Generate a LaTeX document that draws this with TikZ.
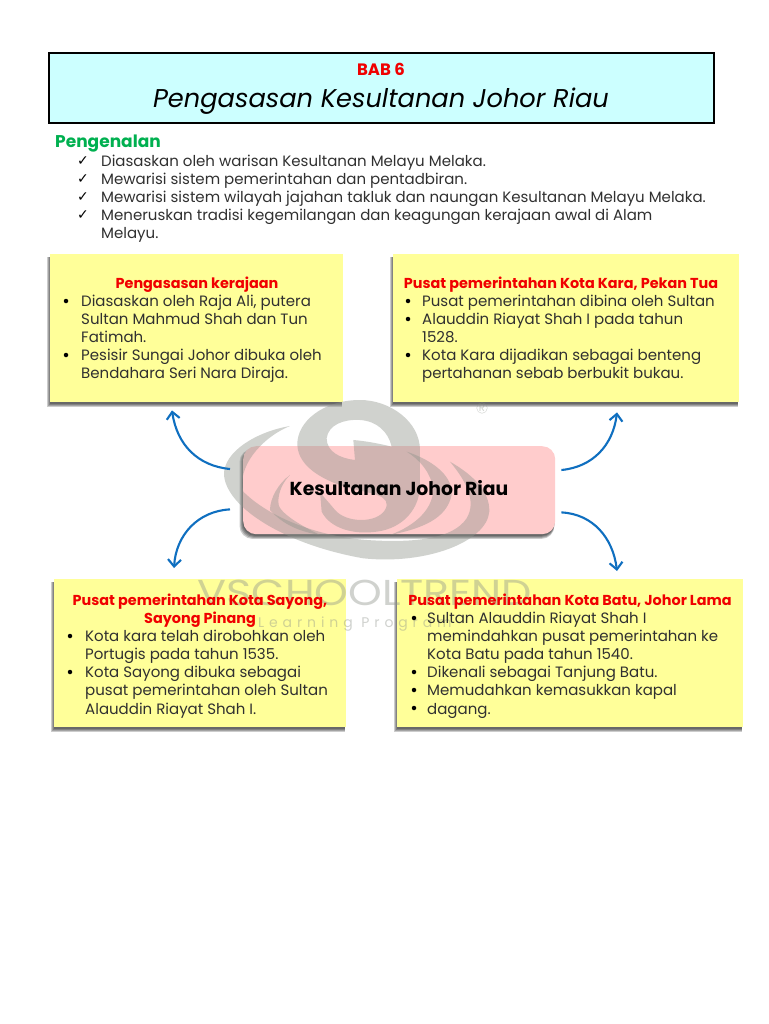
\documentclass[tikz,border=0pt]{standalone}
\usepackage{fontspec}
\setmainfont{Poppins}
\usetikzlibrary{arrows.meta,backgrounds}
\definecolor{ybox}{HTML}{FFFF99}
\definecolor{cyanbox}{HTML}{CCFFFF}
\definecolor{pinkbox}{HTML}{FFCCCC}
\definecolor{arrowblue}{HTML}{0F6FC0}
\definecolor{headred}{HTML}{F00000}
\definecolor{introgreen}{HTML}{00B050}
\definecolor{bodytext}{HTML}{303030}
\definecolor{wm}{HTML}{8F948C}
\newfontfamily\checkfont{DejaVu Sans}
\newfontfamily\wmspaced[LetterSpace=35]{Poppins}
\newcommand{\softshadow}[2]{%
  \foreach \g in {0,1,2,3}{%
    \fill[black,opacity=0.2,rounded corners=#2]
      ([shift={(-\g-0.5pt,-3pt)}]#1.north west) rectangle ([shift={(-1pt,-\g-1.5pt)}]#1.south east);}}
\tikzset{
  x=1pt,y=-1pt,
  infobox/.style={fill=ybox,draw=none,inner sep=0pt,anchor=north west},
  bodyline/.style={anchor=base west,inner sep=0pt,font=\fontsize{15}{16}\selectfont,text=bodytext},
  boxhead/.style={anchor=base,inner sep=0pt,font=\fontsize{14.4}{16}\selectfont\bfseries,text=headred},
  bullet/.style={circle,fill=black,inner sep=0pt,minimum size=4.5pt},
  flow/.style={draw=arrowblue,line width=2.1pt,-{Straight Barb[length=7pt,width=13pt,line width=2.1pt]}},
}
\begin{document}
\begin{tikzpicture}
\useasboundingbox (0,0) rectangle (768,1024);
\begin{pgfonlayer}{background}
\fill[white] (0,0) rectangle (768,1024);
\end{pgfonlayer}
% title
\node[draw=black,line width=1.6pt,fill=cyanbox,anchor=north west,minimum width=665pt,minimum height=70pt,inner sep=0pt] (title) at (48,52.5) {};
% boxes
\node[infobox,minimum width=293pt,minimum height=148pt] (ba) at (50,254) {};
\node[infobox,minimum width=346pt,minimum height=148pt] (bb) at (393,254) {};
\node[infobox,minimum width=292pt,minimum height=148pt] (bc) at (54,579) {};
\node[infobox,minimum width=346pt,minimum height=148pt] (bd) at (397,579) {};
\node[fill=pinkbox,rounded corners=13pt,anchor=north west,minimum width=312pt,minimum height=88pt,inner sep=0pt] (ctr) at (243,446) {};
\begin{pgfonlayer}{background}
\softshadow{ba}{0pt}\softshadow{bb}{0pt}\softshadow{bc}{0pt}\softshadow{bd}{0pt}\softshadow{ctr}{13pt}
\end{pgfonlayer}
% watermark
\begin{scope}[opacity=0.42]
\begin{scope}[x=0.3333pt,y=-0.3333pt,shift={(220pt,-395pt)}]
\fill[wm,even odd rule] (600,165) .. controls (600,80) and (510,15) .. (420,15) .. controls (310,15) and (230,80) .. (232,150) .. controls (235,220) and (320,260) .. (390,280) .. controls (450,295) and (520,300) .. (495,345) .. controls (470,385) and (380,385) .. (345,345) .. controls (325,320) and (305,300) .. (300,290) -- (305,350) .. controls (330,400) and (400,420) .. (470,410) .. controls (550,400) and (600,340) .. (600,270) -- cycle
 (515,155) .. controls (505,110) and (470,78) .. (420,75) .. controls (370,72) and (325,90) .. (320,130) .. controls (320,170) and (360,190) .. (405,195) -- (400,135) .. controls (435,138) and (475,145) .. (515,155) -- cycle;
\fill[wm] (210,93) .. controls (110,110) and (10,170) .. (12,240) .. controls (20,340) and (200,450) .. (430,490) .. controls (620,510) and (800,440) .. (808,350) .. controls (810,290) and (760,240) .. (690,200) .. controls (740,260) and (770,320) .. (740,370) .. controls (700,430) and (590,445) .. (440,435) .. controls (300,425) and (150,370) .. (70,290) .. controls (50,220) and (120,130) .. (210,93) -- cycle;
\fill[wm] (560,170) .. controls (650,200) and (700,250) .. (695,300) .. controls (680,370) and (610,400) .. (510,420) .. controls (590,390) and (640,340) .. (640,280) .. controls (630,230) and (600,195) .. (560,170) -- cycle;
\fill[wm] (210,240) .. controls (175,265) and (150,310) .. (150,345) .. controls (190,390) and (240,410) .. (300,420) .. controls (240,390) and (170,350) .. (175,320) .. controls (175,290) and (190,260) .. (210,240) -- cycle;
\end{scope}
\node[inner sep=0pt,anchor=base,font=\fontsize{36}{40}\selectfont,text=wm,xscale=1.19] (wm1) at (365,605) {VSCHOOLTREND};
\node[inner sep=0pt,anchor=base west,font=\wmspaced\fontsize{14}{16}\selectfont,text=wm] (wm2) at (258,627) {Learning Program};
\node[draw=wm,circle,inner sep=0.5pt,font=\fontsize{10}{10}\selectfont,text=wm] (wm3) at (482,408) {R};
\end{scope}
% title text
\node[inner sep=0pt,font=\fontsize{16.5}{18}\selectfont\bfseries,text=headred,anchor=base] (bab) at (381,76) {BAB 6};
\node[inner sep=0pt,font=\fontsize{25.7}{28}\selectfont\itshape,text=black,anchor=base] (ttl) at (381,108) {Pengasasan Kesultanan Johor Riau};
% intro
\node[inner sep=0pt,anchor=base west,font=\fontsize{17}{18}\selectfont\bfseries,text=introgreen] (pg) at (55,148) {Pengenalan};
\foreach \n/\yy/\t in {i1/167/{Diasaskan oleh warisan Kesultanan Melayu Melaka.},
  i2/185/{Mewarisi sistem pemerintahan dan pentadbiran.},
  i3/203/{Mewarisi sistem wilayah jajahan takluk dan naungan Kesultanan Melayu Melaka.},
  i4/221/{Meneruskan tradisi kegemilangan dan keagungan kerajaan awal di Alam}}{
  \node[bodyline] (\n) at (101,\yy) {\t};
  \node[inner sep=0pt,anchor=base,font=\checkfont\fontsize{14}{14}\selectfont,text=black] (c\n) at (83,\yy-1) {✓};
}
\node[bodyline] (i5) at (101,239) {Melayu.};
\node[inner sep=0pt,anchor=base,font=\fontsize{18.8}{20}\selectfont\bfseries,text=black] (ctrt) at (399,495) {Kesultanan Johor Riau};
% box A
\node[boxhead] (ha) at (197,288) {Pengasasan kerajaan};
\foreach \n/\yy/\t in {a1/306/{Diasaskan oleh Raja Ali, putera},a2/324/{Sultan Mahmud Shah dan Tun},a3/342/{Fatimah.},a4/360/{Pesisir Sungai Johor dibuka oleh},a5/378/{Bendahara Seri Nara Diraja.}}
  {\node[bodyline] (\n) at (81,\yy) {\t};}
\node[bullet] (ba1) at (66,301) {};\node[bullet] (ba2) at (66,355) {};
% box B
\node[boxhead] (hb) at (561,288) {Pusat pemerintahan Kota Kara, Pekan Tua};
\foreach \n/\yy/\t in {b1/306/{Pusat pemerintahan dibina oleh Sultan},b2/324/{Alauddin Riayat Shah I pada tahun},b3/342/{1528.},b4/360/{Kota Kara dijadikan sebagai benteng},b5/378/{pertahanan sebab berbukit bukau.}}
  {\node[bodyline] (\n) at (422,\yy) {\t};}
\node[bullet] (bb1) at (408,301) {};\node[bullet] (bb2) at (408,319) {};\node[bullet] (bb3) at (408,355) {};
% box C
\node[boxhead] (hc1) at (200,605) {Pusat pemerintahan Kota Sayong,};
\node[boxhead] (hc2) at (200,623) {Sayong Pinang};
\foreach \n/\yy/\t in {c1/641/{Kota kara telah dirobohkan oleh},c2/659/{Portugis pada tahun 1535.},c3/677/{Kota Sayong dibuka sebagai},c4/695/{pusat pemerintahan oleh Sultan},c5/714/{Alauddin Riayat Shah I.}}
  {\node[bodyline] (\n) at (85,\yy) {\t};}
\node[bullet] (bc1) at (70,636) {};\node[bullet] (bc2) at (70,672) {};
% box D
\node[boxhead] (hd) at (570,605) {Pusat pemerintahan Kota Batu, Johor Lama};
\foreach \n/\yy/\t in {d1/623/{Sultan Alauddin Riayat Shah I},d2/641/{memindahkan pusat pemerintahan ke},d3/659/{Kota Batu pada tahun 1540.},d4/677/{Dikenali sebagai Tanjung Batu.},d5/695/{Memudahkan kemasukkan kapal},d6/714/{dagang.}}
  {\node[bodyline] (\n) at (427,\yy) {\t};}
\node[bullet] (bd1) at (414,618) {};\node[bullet] (bd2) at (414,672) {};\node[bullet] (bd3) at (414,690) {};\node[bullet] (bd4) at (414,708) {};
% connectors
\coordinate (s1) at ([shift={(-13,23)}]ctr.north west);
\coordinate (s2) at ([shift={(6,24)}]ctr.north east);
\coordinate (s3) at ([shift={(-13,-25)}]ctr.south west);
\coordinate (s4) at ([shift={(6,-22)}]ctr.south east);
\coordinate (e1) at ([shift={(122,8)}]ba.south west);
\coordinate (e2) at ([shift={(224,10)}]bb.south west);
\coordinate (e3) at ([shift={(120,-11)}]bc.north west);
\coordinate (e4) at ([shift={(220,-8)}]bd.north west);
\draw[flow] (s1) .. controls (198,466) and (177,445) .. (e1);
\draw[flow] (s2) .. controls (593,467) and (613,445) .. (e2);
\draw[flow] (s3) .. controls (198,511) and (176,535) .. (e3);
\draw[flow] (s4) .. controls (593,514) and (613,538) .. (e4);
\end{tikzpicture}
\end{document}
